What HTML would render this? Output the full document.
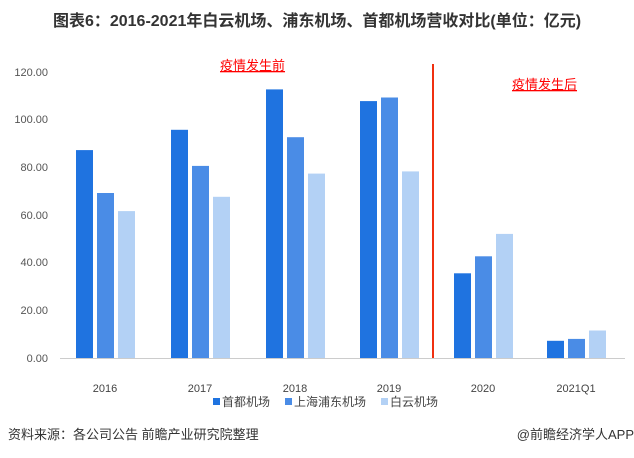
<!DOCTYPE html><html><head><meta charset="utf-8"><style>
body{margin:0;background:#fff;width:634px;height:453px;overflow:hidden;font-family:"Liberation Sans","Noto Sans CJK SC",sans-serif}
</style></head><body>
<svg width="634" height="453" xmlns="http://www.w3.org/2000/svg" font-family="Liberation Sans, Noto Sans CJK SC, sans-serif">
<text x="317" y="26" text-anchor="middle" font-size="16" font-weight="bold" fill="#333">图表6：2016-2021年白云机场、浦东机场、首都机场营收对比(单位：亿元)</text>
<g font-size="11" fill="#555" text-anchor="end">
<text x="48" y="362">0.00</text><text x="48" y="314">20.00</text><text x="48" y="266">40.00</text>
<text x="48" y="219">60.00</text><text x="48" y="171">80.00</text><text x="48" y="123">100.00</text><text x="48" y="76">120.00</text>
</g>
<line x1="60" y1="358.5" x2="625" y2="358.5" stroke="#ccc"/>
<g fill="#1f73e0">
<rect x="76" y="150.1" width="17" height="207.9"/>
<rect x="171" y="129.8" width="17" height="228.2"/>
<rect x="266" y="89.4" width="17" height="268.6"/>
<rect x="360" y="101.1" width="17" height="256.9"/>
<rect x="454" y="273.3" width="17" height="84.7"/>
<rect x="547" y="340.8" width="17" height="17.2"/>
</g>
<g fill="#4a8ce6">
<rect x="97" y="193" width="17" height="165"/>
<rect x="192" y="165.9" width="17" height="192.1"/>
<rect x="287" y="137.2" width="17" height="220.8"/>
<rect x="381" y="97.5" width="17" height="260.5"/>
<rect x="475" y="256.3" width="17" height="101.7"/>
<rect x="568" y="338.9" width="17" height="19.1"/>
</g>
<g fill="#b3d1f5">
<rect x="118" y="211.1" width="17" height="146.9"/>
<rect x="213" y="196.8" width="17" height="161.2"/>
<rect x="308" y="173.6" width="17" height="184.4"/>
<rect x="402" y="171.4" width="17" height="186.6"/>
<rect x="496" y="233.9" width="17" height="124.1"/>
<rect x="589" y="330.5" width="17" height="27.5"/>
</g>
<line x1="433" y1="64" x2="433" y2="358" stroke="#f03010" stroke-width="2"/>
<text x="220" y="70" font-size="13" fill="#f00" text-decoration="underline">疫情发生前</text>
<text x="512" y="89" font-size="13" fill="#f00" text-decoration="underline">疫情发生后</text>
<g font-size="11" fill="#444" text-anchor="middle">
<text x="105" y="392">2016</text><text x="200" y="392">2017</text><text x="295" y="392">2018</text>
<text x="389" y="392">2019</text><text x="483" y="392">2020</text><text x="576" y="392">2021Q1</text>
</g>
<g font-size="12" fill="#444">
<rect x="213" y="398" width="7" height="7" fill="#1f73e0"/><text x="222" y="406">首都机场</text>
<rect x="285" y="398" width="7" height="7" fill="#4a8ce6"/><text x="294" y="406">上海浦东机场</text>
<rect x="381" y="398" width="7" height="7" fill="#b3d1f5"/><text x="390" y="406">白云机场</text>
</g>
<text x="8" y="439" font-size="13" fill="#333">资料来源：各公司公告 前瞻产业研究院整理</text>
<text x="634" y="439" font-size="13" fill="#333" text-anchor="end">@前瞻经济学人APP</text>
</svg></body></html>
